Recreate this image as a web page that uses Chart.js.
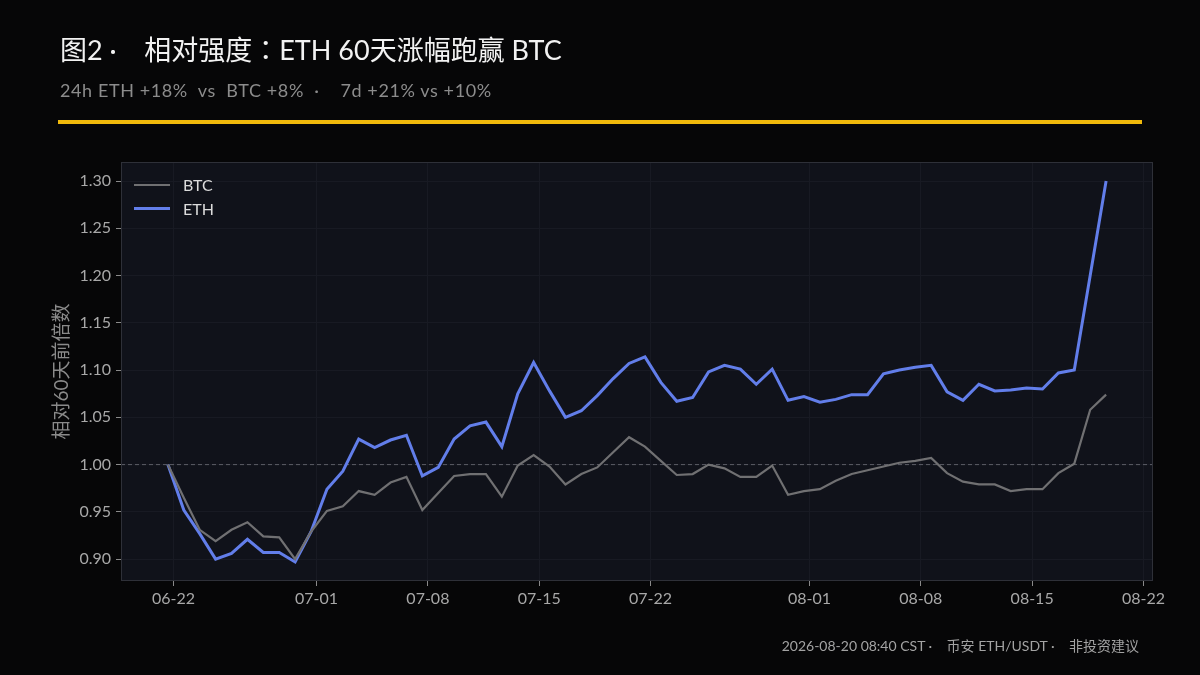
<!DOCTYPE html>
<html>
<head>
<meta charset="utf-8">
<script src="https://cdn.jsdelivr.net/npm/chart.js@4.4.1/dist/chart.umd.min.js"></script>
<style>
  html, body { margin: 0; padding: 0; background: #060607; }
  #wrap { position: relative; width: 1200px; height: 675px; overflow: hidden; background: #060607; font-family: "Lato", "Noto Sans CJK SC", sans-serif; }
  #chartBox { position: absolute; left: 0; top: 0; width: 1200px; height: 675px; }
  .txt { position: absolute; white-space: pre; line-height: 1; margin: 0; }
  #title { left: 60px; top: 35px; font-size: 27px; color: #f2f2f2; }
  #title .jp { font-family: "Noto Sans CJK JP", "Noto Sans CJK SC", sans-serif; }
  #subtitle { left: 60px; top: 81px; font-size: 18px; color: #8c8c8c; letter-spacing: 0.6px; }
  #rule { position: absolute; left: 58px; top: 120px; width: 1084px; height: 4px; background: #f0b90b; }
  #footer { right: 61px; top: 639px; font-size: 14px; color: #a3a3a3; }
</style>
</head>
<body>
<div id="wrap">
  <div id="chartBox"><canvas id="c"></canvas></div>
  <div class="txt" id="title">图2 ·    相对强度<span class="jp">：</span>ETH 60天涨幅跑赢 BTC</div>
  <div class="txt" id="subtitle">24h ETH +18%  vs  BTC +8%  ·    7d +21% vs +10%</div>
  <div id="rule"></div>
  <div class="txt" id="footer">2026-08-20 08:40 CST ·    币安 ETH/USDT ·    非投资建议</div>
</div>
<script>
// ---- data ----
const dates = [
  "06-21","06-22","06-23","06-24","06-25","06-26","06-27","06-28","06-29","06-30",
  "07-01","07-02","07-03","07-04","07-05","07-06","07-07","07-08","07-09","07-10",
  "07-11","07-12","07-13","07-14","07-15","07-16","07-17","07-18","07-19","07-20",
  "07-21","07-22","07-23","07-24","07-25","07-26","07-27","07-28","07-29","07-30",
  "07-31","08-01","08-02","08-03","08-04","08-05","08-06","08-07","08-08","08-09",
  "08-10","08-11","08-12","08-13","08-14","08-15","08-16","08-17","08-18","08-19"
];
const btc = [
  1.000, 0.965, 0.931, 0.919, 0.931, 0.939, 0.924, 0.923, 0.900, 0.929,
  0.951, 0.956, 0.972, 0.968, 0.981, 0.987, 0.952, 0.970, 0.988, 0.990,
  0.990, 0.966, 0.999, 1.010, 0.998, 0.979, 0.990, 0.997, 1.013, 1.029,
  1.019, 1.004, 0.989, 0.990, 1.000, 0.996, 0.987, 0.987, 0.999, 0.968,
  0.972, 0.974, 0.983, 0.990, 0.994, 0.998, 1.002, 1.004, 1.007, 0.991,
  0.982, 0.979, 0.979, 0.972, 0.974, 0.974, 0.991, 1.001, 1.058, 1.074
];
const eth = [
  1.000, 0.952, 0.927, 0.900, 0.906, 0.921, 0.907, 0.907, 0.897, 0.929,
  0.974, 0.993, 1.027, 1.018, 1.026, 1.031, 0.988, 0.997, 1.027, 1.041,
  1.045, 1.019, 1.075, 1.108, 1.078, 1.050, 1.057, 1.073, 1.091, 1.107,
  1.114, 1.087, 1.067, 1.071, 1.098, 1.105, 1.101, 1.085, 1.101, 1.068,
  1.072, 1.066, 1.069, 1.074, 1.074, 1.096, 1.100, 1.103, 1.105, 1.077,
  1.068, 1.085, 1.078, 1.079, 1.081, 1.080, 1.097, 1.100, 1.200, 1.300
];
const xTickLabels = ["06-22","07-01","07-08","07-15","07-22","08-01","08-08","08-15","08-22"];
const yTickValues = [0.90, 0.95, 1.00, 1.05, 1.10, 1.15, 1.20, 1.25, 1.30];
const baselineValue = 1.00;
const sampleTimeOfDay = 0.65; // fraction of day at which each daily sample is taken

// ---- helpers: day number since 06-21 ----
function dayNum(mmdd) {
  const [m, d] = mmdd.split("-").map(Number);
  return (Date.UTC(2026, m - 1, d) - Date.UTC(2026, 5, 21)) / 86400000;
}
const xs = dates.map(d => dayNum(d) + sampleTimeOfDay);
const xTickValues = xTickLabels.map(dayNum);
const span = xs[xs.length - 1] - xs[0];
const xMin = xs[0] - span * 0.05, xMax = xs[xs.length - 1] + span * 0.05;
const allY = btc.concat(eth);
const yLo = Math.min(...allY), yHi = Math.max(...allY);
const yMin = yLo - (yHi - yLo) * 0.05, yMax = yHi + (yHi - yLo) * 0.05;

const FONT = '"Lato", "Noto Sans CJK SC", sans-serif';

const frame = {
  id: 'frame',
  beforeDraw(chart) {
    const {ctx, chartArea: a} = chart;
    ctx.save();
    ctx.fillStyle = '#10121a';
    ctx.fillRect(a.left, a.top, a.right - a.left, a.bottom - a.top);
    ctx.restore();
  },
  beforeDatasetsDraw(chart) {
    const {ctx, chartArea: a, scales} = chart;
    const y = scales.y.getPixelForValue(baselineValue);
    ctx.save();
    ctx.strokeStyle = '#5c5d66';
    ctx.lineWidth = 1;
    ctx.setLineDash([4, 3]);
    ctx.beginPath();
    ctx.moveTo(a.left, y);
    ctx.lineTo(a.right, y);
    ctx.stroke();
    ctx.restore();
  },
  afterDatasetsDraw(chart) {
    const {ctx, chartArea: a} = chart;
    ctx.save();
    ctx.strokeStyle = '#2e3038';
    ctx.lineWidth = 1;
    ctx.strokeRect(a.left + 0.5, a.top + 0.5, a.right - a.left - 1, a.bottom - a.top - 1);
    chart.data.datasets.forEach((ds, i) => {
      const cy = a.top + 23 + i * 23.5;
      const x0 = a.left + 13;
      ctx.strokeStyle = ds.borderColor;
      ctx.lineWidth = ds.borderWidth;
      ctx.setLineDash([]);
      ctx.beginPath();
      ctx.moveTo(x0, cy);
      ctx.lineTo(x0 + 36, cy);
      ctx.stroke();
      ctx.fillStyle = '#dcdcdc';
      ctx.font = '16px ' + FONT;
      ctx.textBaseline = 'middle';
      ctx.fillText(ds.label, x0 + 49, cy + 1);
    });
    ctx.restore();
  }
};

new Chart(document.getElementById('c'), {
  type: 'line',
  data: {
    datasets: [
      { label: 'BTC', data: xs.map((x, i) => ({x, y: btc[i]})), borderColor: '#707072', borderWidth: 2.2, pointRadius: 0, tension: 0 },
      { label: 'ETH', data: xs.map((x, i) => ({x, y: eth[i]})), borderColor: '#627eea', borderWidth: 3, pointRadius: 0, tension: 0 }
    ]
  },
  options: {
    responsive: true,
    maintainAspectRatio: false,
    animation: false,
    events: [],
    layout: { padding: { left: 0, top: 162, right: 47, bottom: 0 } },
    plugins: { legend: { display: false }, tooltip: { enabled: false } },
    scales: {
      x: {
        type: 'linear',
        min: xMin, max: xMax,
        afterBuildTicks(s) { s.ticks = xTickValues.map(v => ({value: v})); },
        afterFit(s) { s.height = 94; },
        ticks: {
          color: '#a8a8a8', font: { family: FONT, size: 16 }, padding: 3, maxRotation: 0, autoSkip: false,
          callback: (v, i) => xTickLabels[i]
        },
        grid: { color: '#181a23', tickColor: '#8a8a8a', tickLength: 5, lineWidth: 1 },
        border: { display: false }
      },
      y: {
        type: 'linear',
        min: yMin, max: yMax,
        afterBuildTicks(s) { s.ticks = yTickValues.map(v => ({value: v})); },
        afterFit(s) { s.width = 121; },
        ticks: {
          color: '#a8a8a8', font: { family: FONT, size: 16 }, padding: 5,
          callback: v => Number(v).toFixed(2)
        },
        grid: { color: '#181a23', tickColor: '#8a8a8a', tickLength: 5, lineWidth: 1 },
        border: { display: false },
        title: {
          display: true, text: '相对60天前倍数', color: '#8a8a8a',
          font: { family: FONT, size: 19 }, padding: { top: 50, bottom: 0 }
        }
      }
    }
  },
  plugins: [frame]
});
</script>
</body>
</html>
